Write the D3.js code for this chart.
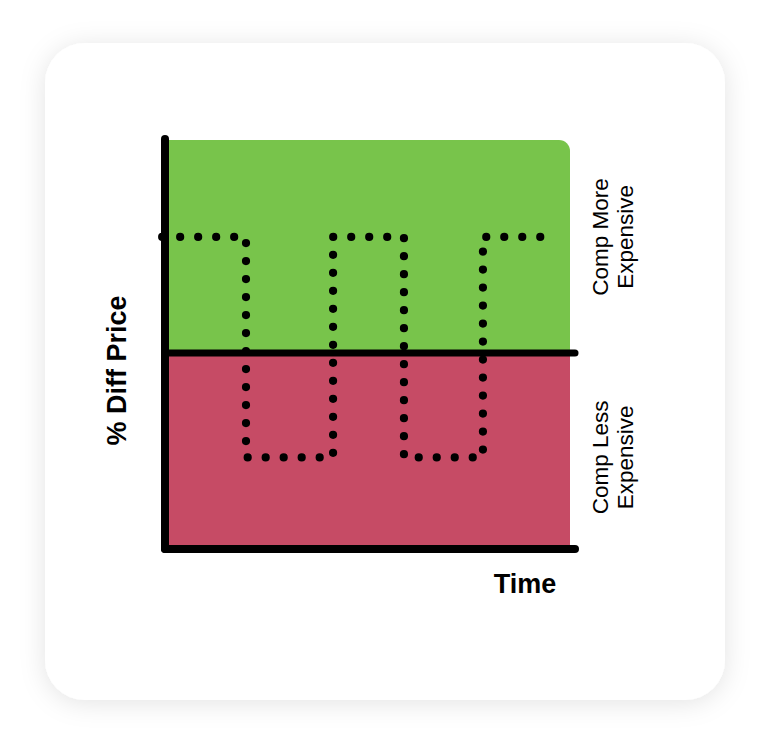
<!DOCTYPE html>
<html>
<head>
<meta charset="utf-8">
<script src="https://cdn.jsdelivr.net/npm/d3@7"></script>
<style>
  html, body { margin: 0; padding: 0; background: #ffffff; }
  svg { display: block; }
  text { font-family: "Liberation Sans", Arial, Helvetica, sans-serif; fill: #000; }
</style>
</head>
<body>
<script>
// Step data: time breakpoints and the % diff level after each one
var timePoints = [-0.07, 2, 4.15, 5.9, 7.85, 9.4];
var diffValues = [5.45, -4.9, 5.45, -4.9, 5.45, 5.45];

// Zone labels, each shown at the level of one state
var zones = [
  { name: "more", lines: ["Comp More", "Expensive"], level: 5.45, color: "#78c44b" },
  { name: "less", lines: ["Comp Less", "Expensive"], level: -4.9, color: "#c64b65" }
];

var xTitle = "Time";
var yTitle = "% Diff Price";

var svgWidth = 768;
var svgHeight = 745;

var svg = d3.select("body")
  .append("svg")
  .attr("width", svgWidth)
  .attr("height", svgHeight);

// Card with soft shadow
var defs = svg.append("defs");
var shadow = defs.append("filter")
  .attr("id", "cardShadow")
  .attr("x", "-20%").attr("y", "-20%")
  .attr("width", "140%").attr("height", "140%");
shadow.append("feDropShadow")
  .attr("dx", 0).attr("dy", 3)
  .attr("stdDeviation", 13)
  .attr("flood-color", "#000")
  .attr("flood-opacity", 0.11);

svg.append("rect")
  .attr("x", 45).attr("y", 43)
  .attr("width", 680).attr("height", 657)
  .attr("rx", 40)
  .attr("fill", "#ffffff")
  .attr("filter", "url(#cardShadow)");

// Scales
var xScale = d3.scaleLinear()
  .domain([0, 10])
  .range([165, 570]);

var yScale = d3.scaleLinear()
  .domain([-9.2, 10])
  .range([549, 140]);

var x0 = xScale(0), x1 = xScale(10);
var yTop = yScale(10), yZero = yScale(0), yBot = yScale(-9.2);

// Green zone (above zero) with rounded top-right corner
var r = 11;
var greenPath = d3.path();
greenPath.moveTo(x0, yZero);
greenPath.lineTo(x0, yTop);
greenPath.lineTo(x1 - r, yTop);
greenPath.arcTo(x1, yTop, x1, yTop + r, r);
greenPath.lineTo(x1, yZero);
greenPath.closePath();

svg.append("path")
  .attr("d", greenPath.toString())
  .attr("fill", zones[0].color);

// Red zone (below zero)
svg.append("rect")
  .attr("x", x0)
  .attr("y", yZero)
  .attr("width", x1 - x0)
  .attr("height", yBot - yZero)
  .attr("fill", zones[1].color);

// Dotted step line
var stepLine = d3.line()
  .x(function(d, i) { return xScale(timePoints[i]); })
  .y(function(d) { return yScale(d); })
  .curve(d3.curveStepAfter);

svg.append("path")
  .attr("d", stepLine(diffValues))
  .attr("fill", "none")
  .attr("stroke", "#000")
  .attr("stroke-width", 8.2)
  .attr("stroke-linecap", "round")
  .attr("stroke-dasharray", "0 18");

// Axis lines
var axisGroup = svg.append("g")
  .attr("stroke", "#000")
  .attr("stroke-linecap", "round");

axisGroup.append("line")
  .attr("x1", x0).attr("x2", x0)
  .attr("y1", yTop - 1).attr("y2", yBot)
  .attr("stroke-width", 8);

axisGroup.append("line")
  .attr("x1", x0).attr("x2", x1 + 5)
  .attr("y1", yZero).attr("y2", yZero)
  .attr("stroke-width", 7);

axisGroup.append("line")
  .attr("x1", x0).attr("x2", x1 + 5)
  .attr("y1", yBot).attr("y2", yBot)
  .attr("stroke-width", 8);

// Axis titles
svg.append("text")
  .attr("transform", "translate(126," + ((yTop + yBot) / 2 + 26) + ") rotate(-90)")
  .attr("text-anchor", "middle")
  .style("font-size", "27px")
  .style("font-weight", "bold")
  .text(yTitle);

svg.append("text")
  .attr("x", 525)
  .attr("y", 593)
  .attr("text-anchor", "middle")
  .style("font-size", "27px")
  .style("font-weight", "bold")
  .text(xTitle);

// Zone labels on the right
zones.forEach(function(z) {
  var t = svg.append("text")
    .attr("transform", "translate(608," + yScale(z.level) + ") rotate(-90)")
    .attr("text-anchor", "middle")
    .style("font-size", "22.5px");
  z.lines.forEach(function(line, i) {
    t.append("tspan")
      .attr("x", 0)
      .attr("dy", i === 0 ? 0 : 25)
      .text(line);
  });
});
</script>
</body>
</html>
